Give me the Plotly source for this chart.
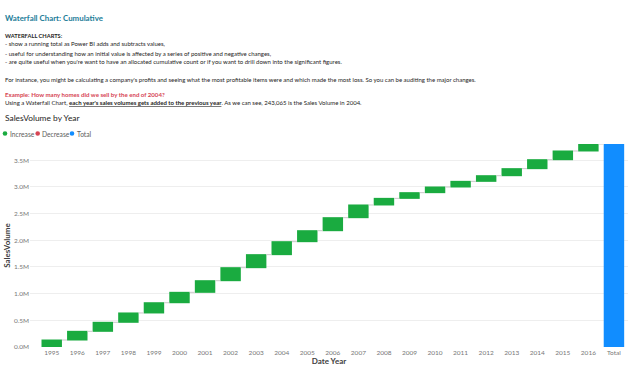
import plotly.graph_objects as go

years = ["1995", "1996", "1997", "1998", "1999", "2000", "2001", "2002", "2003", "2004", "2005",
         "2006", "2007", "2008", "2009", "2010", "2011", "2012", "2013", "2014", "2015", "2016"]
sales_volume = [131000, 163000, 169000, 175000, 192000, 195000, 218000, 244000, 244000, 243065, 206000,
                244000, 238000, 124000, 107000, 106000, 106000, 106000, 132000, 168000, 163000, 131000]
total_label = "Total"
legend_labels = ["Increase", "Decrease", "Total"]
y_tickvals = [0, 500000, 1000000, 1500000, 2000000, 2500000, 3000000, 3500000]
y_ticktext = ["0.0M", "0.5M", "1.0M", "1.5M", "2.0M", "2.5M", "3.0M", "3.5M"]

W, H = 638, 378
L, R, T, B = 30, 628, 144, 347
FONT = "Lato"
C_INC, C_DEC, C_TOT = "#1AAB40", "#D64554", "#118DFF"

x_cats = years + [total_label]
measures = ["relative"] * len(years) + ["total"]
y_vals = sales_volume + [0]

fig = go.Figure(go.Waterfall(
    x=x_cats, y=y_vals, measure=measures,
    increasing=dict(marker=dict(color=C_INC)),
    decreasing=dict(marker=dict(color=C_DEC)),
    totals=dict(marker=dict(color=C_TOT)),
    connector=dict(line=dict(color="#c8c8c8", width=1)),
    textposition="none", hoverinfo="skip", showlegend=False,
))

def px(x, y):
    return (x - L) / (R - L), (B - y) / (B - T)

def ann(x, y, text, size=7, color="#252423", anchor="left"):
    ax, ay = px(x, y)
    fig.add_annotation(x=ax, y=ay, xref="paper", yref="paper", text=text, showarrow=False,
                       xanchor=anchor, yanchor="middle", align="left",
                       font=dict(family=FONT, size=size, color=color))

ann(3, 18, "<b>Waterfall Chart: Cumulative</b>", size=7.9, color="#1B7C98")
ann(3, 35.5, "<b>WATERFALL CHARTS:</b>", size=5.7)
ann(3, 44, "- show a running total as Power BI adds and subtracts values,", size=6)
ann(3, 53, "- useful for understanding how an initial value is affected by a series of positive and negative changes,", size=6)
ann(3, 61.5, "- are quite useful when you're want to have an allocated cumulative count or if you want to drill down into the significant figures.", size=6)
ann(3, 79, "For instance, you might be calculating a company's profits and seeing what the most profitable items were and which made the most loss. So you can be auditing the major changes.", size=6)
ann(3, 94.5, "<b>Example: How many homes did we sell by the end of 2004?</b>", size=6.1, color="#D64554")
ann(3, 103, "Using a Waterfall Chart, <b><u>each year's sales volumes gets added to the previous year</u></b>. As we can see, 243,065 is the Sales Volume in 2004.", size=6)
ann(3, 117.5, "SalesVolume by Year", size=8.4, color="#252423")

# legend: dot + label
legend_dot_x = [5, 37.7, 72]
legend_text_x = [8, 40.3, 74.5]
for lab, col, dx, tx in zip(legend_labels, [C_INC, C_DEC, C_TOT], legend_dot_x, legend_text_x):
    ax, ay = px(dx, 133.5)
    fig.add_shape(type="circle", xref="paper", yref="paper",
                  x0=ax - 2.3 / (R - L), x1=ax + 2.3 / (R - L),
                  y0=ay - 2.3 / (B - T), y1=ay + 2.3 / (B - T),
                  fillcolor=col, line=dict(width=0))
    ann(tx, 133.5, lab, size=6.7, color="#605E5C")

total = sum(sales_volume)
fig.update_layout(
    width=W, height=H,
    margin=dict(l=L, r=W - R, t=T, b=H - B, pad=0, autoexpand=False),
    paper_bgcolor="white", plot_bgcolor="white",
    font=dict(family=FONT, color="#605E5C"),
    bargap=0.22,
    xaxis=dict(type="category", range=[-0.85, len(x_cats) - 0.45], showgrid=False, zeroline=False,
               automargin=False, showline=False, ticks="", tickfont=dict(size=6.5, color="#777777"),
               title=dict(text="<b>Date Year</b>", font=dict(size=8, color="#404040"), standoff=3)),
    yaxis=dict(range=[0, total], tickvals=y_tickvals, ticktext=y_ticktext, showgrid=True,
               automargin=False, gridcolor="#eeeeee", gridwidth=1, zeroline=False, showline=False, ticks="",
               tickfont=dict(size=6.5, color="#777777"),
               title=dict(text="<b>SalesVolume</b>", font=dict(size=8, color="#404040"), standoff=2)),
)

fig.write_html("out.html", config={"displayModeBar": False},
               post_script="document.body.style.margin='0';")
